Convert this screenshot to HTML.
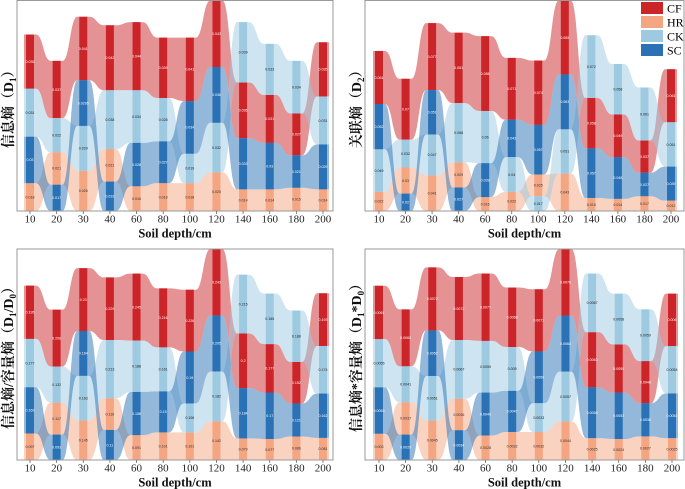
<!DOCTYPE html>
<html><head><meta charset="utf-8">
<style>
html,body{margin:0;padding:0;background:#fff;}
svg{display:block;font-family:"Liberation Serif","Noto Serif CJK SC",serif;}
</style></head>
<body>
<svg id="chart" width="685" height="489" viewBox="0 0 685 489" xmlns="http://www.w3.org/2000/svg">
<g id="legend">
  <rect x="641" y="2" width="22" height="12" fill="#cc2529"/>
  <text x="667" y="12.5" font-size="12">CF</text>
  <rect x="641" y="16" width="22" height="12" fill="#f4a582"/>
  <text x="667" y="26.5" font-size="12">HR</text>
  <rect x="641" y="30" width="22" height="12" fill="#9ecae1"/>
  <text x="667" y="40.5" font-size="12">CK</text>
  <rect x="641" y="44" width="22" height="12" fill="#2a72b5"/>
  <text x="667" y="54.5" font-size="12">SC</text>
</g>
</svg>
<script>
const depths = ['10','20','30','40','60','80','100','120','140','160','180','200'];
const seriesNames = ['CF','HR','CK','SC'];

const p1CF = [0.035,0.037,0.041,0.042,0.044,0.039,0.041,0.043,0.036,0.031,0.027,0.035];
const p1HR = [0.018,0.021,0.026,0.021,0.016,0.018,0.018,0.025,0.014,0.014,0.015,0.014];
const p1CK = [0.031,0.022,0.029,0.038,0.034,0.028,0.019,0.032,0.039,0.033,0.034,0.031];
const p1SC = [0.030,0.017,0.0295,0.019,0.028,0.027,0.034,0.036,0.033,0.030,0.021,0.029];

const p2CF = [0.061,0.07,0.077,0.081,0.086,0.071,0.074,0.085,0.058,0.049,0.037,0.061];
const p2HR = [0.022,0.03,0.041,0.029,0.016,0.022,0.025,0.043,0.015,0.014,0.017,0.012];
const p2CK = [0.049,0.032,0.047,0.068,0.06,0.04,0.017,0.051,0.072,0.058,0.061,0.051];
const p2SC = [0.052,0.02,0.051,0.027,0.039,0.043,0.057,0.063,0.057,0.048,0.027,0.039];

const p3CF = [0.195,0.208,0.23,0.229,0.245,0.216,0.226,0.243,0.2,0.177,0.152,0.193];
const p3HR = [0.097,0.117,0.145,0.116,0.091,0.101,0.101,0.142,0.079,0.077,0.086,0.081];
const p3CK = [0.177,0.132,0.163,0.213,0.188,0.161,0.106,0.182,0.215,0.185,0.188,0.174];
const p3SC = [0.169,0.093,0.164,0.11,0.158,0.15,0.19,0.205,0.184,0.17,0.121,0.162];

const p4CF = [0.0061,0.0065,0.0072,0.0072,0.0077,0.0068,0.0071,0.0076,0.0063,0.0055,0.0048,0.0060];
const p4HR = [0.0030,0.0037,0.0045,0.0036,0.0028,0.0032,0.0032,0.0044,0.0025,0.0024,0.0027,0.0025];
const p4CK = [0.0055,0.0041,0.0051,0.0067,0.0059,0.0050,0.0033,0.0057,0.0067,0.0058,0.0059,0.0054];
const p4SC = [0.0053,0.0029,0.0052,0.0034,0.0049,0.0047,0.0059,0.0064,0.0058,0.0053,0.0038,0.0051];

const colors = {CF:'#cc2529',HR:'#f4a582',CK:'#9ecae1',SC:'#2a72b5'};
const labelColors = {CF:'#ffffff',HR:'#333333',CK:'#222222',SC:'#ffffff'};
const NS = 'http://www.w3.org/2000/svg';
const svg = document.getElementById('chart');
const legend = document.getElementById('legend');

function mk(tag, attrs, parent){
  const e = document.createElementNS(NS, tag);
  for (const k in attrs) e.setAttribute(k, attrs[k]);
  parent.appendChild(e);
  return e;
}

function drawPanel(cfg){
  const g = mk('g', {}, svg);
  
  
  const vals = {CF:cfg.CF, HR:cfg.HR, CK:cfg.CK, SC:cfg.SC};
  const n = depths.length;
  const xs = i => cfg.c0 + (cfg.c1 - cfg.c0) * i / (n - 1);
  let maxT = 0;
  for (let i = 0; i < n; i++){ let t = 0; seriesNames.forEach(s => t += vals[s][i]); maxT = Math.max(maxT, t); }
  const ys = v => cfg.y1 - (cfg.y1 - cfg.y0) * v / maxT;
  const pos = [];
  for (let i = 0; i < n; i++){
    const ord = seriesNames.slice().sort((a, b) => vals[a][i] - vals[b][i]);
    let acc = 0; const p = {};
    ord.forEach(s => { p[s] = {b: ys(acc), t: ys(acc + vals[s][i])}; acc += vals[s][i]; });
    pos.push(p);
  }
  const f = 6, bw = 8;
  seriesNames.forEach(s => {
    let d = '';
    const a0 = pos[0][s];
    d += `M${xs(0)-f},${a0.t} `;
    for (let i = 0; i < n - 1; i++){
      const xa = xs(i) + f, xb = xs(i+1) - f, m = (xa + xb) / 2;
      d += `L${xa},${pos[i][s].t} C${m},${pos[i][s].t} ${m},${pos[i+1][s].t} ${xb},${pos[i+1][s].t} `;
    }
    d += `L${xs(n-1)+f},${pos[n-1][s].t} L${xs(n-1)+f},${pos[n-1][s].b} `;
    for (let i = n - 1; i > 0; i--){
      const xa = xs(i) - f, xb = xs(i-1) + f, m = (xa + xb) / 2;
      d += `L${xa},${pos[i][s].b} C${m},${pos[i][s].b} ${m},${pos[i-1][s].b} ${xb},${pos[i-1][s].b} `;
    }
    d += `L${xs(0)-f},${a0.b} Z`;
    const r = mk('path', {d:d, fill:colors[s], 'fill-opacity':0.5}, g);
    
    
  });
  for (let i = 0; i < n; i++){
    seriesNames.forEach(s => {
      const p = pos[i][s];
      const b = mk('rect', {x: xs(i) - bw/2, y: p.t, width: bw, height: Math.max(0, p.b - p.t), fill: colors[s]}, g);
      
      
      const t = mk('text', {x: xs(i), y: (p.t + p.b)/2 + 1.3, 'font-size': 3.6, 'text-anchor': 'middle', fill: labelColors[s], 'font-family':'Liberation Sans, sans-serif'}, g);
      t.textContent = String(vals[s][i]);
      
      
    });
  }
  const fr = mk('rect', {x: cfg.x0, y: cfg.y0, width: cfg.x1 - cfg.x0, height: cfg.y1 - cfg.y0, fill: 'none', stroke: '#999', 'stroke-width': 1}, g);
  
  
  for (let i = 0; i < n; i++){
    const tk = mk('line', {x1: xs(i), x2: xs(i), y1: cfg.y1, y2: cfg.y1 + 3, stroke: '#666', 'stroke-width': 0.8}, g);
    
    
    const tl = mk('text', {x: xs(i), y: cfg.y1 + 11.5, 'font-size': 11, 'text-anchor': 'middle', fill: '#222'}, g);
    tl.textContent = depths[i];
    
    
  }
  const xt = mk('text', {x: (cfg.x0 + cfg.x1)/2, y: cfg.y1 + 26.5, 'font-size': 12.5, 'font-weight': 'bold', 'text-anchor': 'middle', fill: '#111'}, g);
  xt.textContent = 'Soil depth/cm';
  
  
  const yc = (cfg.y0 + cfg.y1)/2;
  const yt = mk('text', {x: 0, y: 0, 'font-size': 14, 'font-weight': 'bold', 'text-anchor': 'middle', fill: '#111', transform: `translate(${cfg.x0 - 4},${yc}) rotate(-90)`, 'font-family': 'Liberation Serif, Noto Serif CJK SC, serif'}, g);
  yt.innerHTML = cfg.ytitle;
  
  
}

drawPanel({name:'panel-d1', x0:17, x1:333, y0:0.5, y1:211, c0:30, c1:323, CF:p1CF, HR:p1HR, CK:p1CK, SC:p1SC,
  ytitle:'信息熵（D<tspan font-size="9" dy="3">1</tspan><tspan dy="-3">）</tspan>'});
drawPanel({name:'panel-d2', x0:365, x1:684, y0:0.5, y1:211, c0:379, c1:671, CF:p2CF, HR:p2HR, CK:p2CK, SC:p2SC,
  ytitle:'关联熵（D<tspan font-size="9" dy="3">2</tspan><tspan dy="-3">）</tspan>'});
drawPanel({name:'panel-d1-d0', x0:17, x1:333, y0:249, y1:460, c0:30, c1:323, CF:p3CF, HR:p3HR, CK:p3CK, SC:p3SC,
  ytitle:'信息熵/容量熵（D<tspan font-size="9" dy="3">1</tspan><tspan dy="-3">/D</tspan><tspan font-size="9" dy="3">0</tspan><tspan dy="-3">）</tspan>'});
drawPanel({name:'panel-d1xd0', x0:365, x1:684, y0:249, y1:460, c0:379, c1:672, CF:p4CF, HR:p4HR, CK:p4CK, SC:p4SC,
  ytitle:'信息熵*容量熵（D<tspan font-size="9" dy="3">1</tspan><tspan dy="-3">*D</tspan><tspan font-size="9" dy="3">0</tspan><tspan dy="-3">）</tspan>'});
svg.appendChild(legend);
</script>
</body></html>
